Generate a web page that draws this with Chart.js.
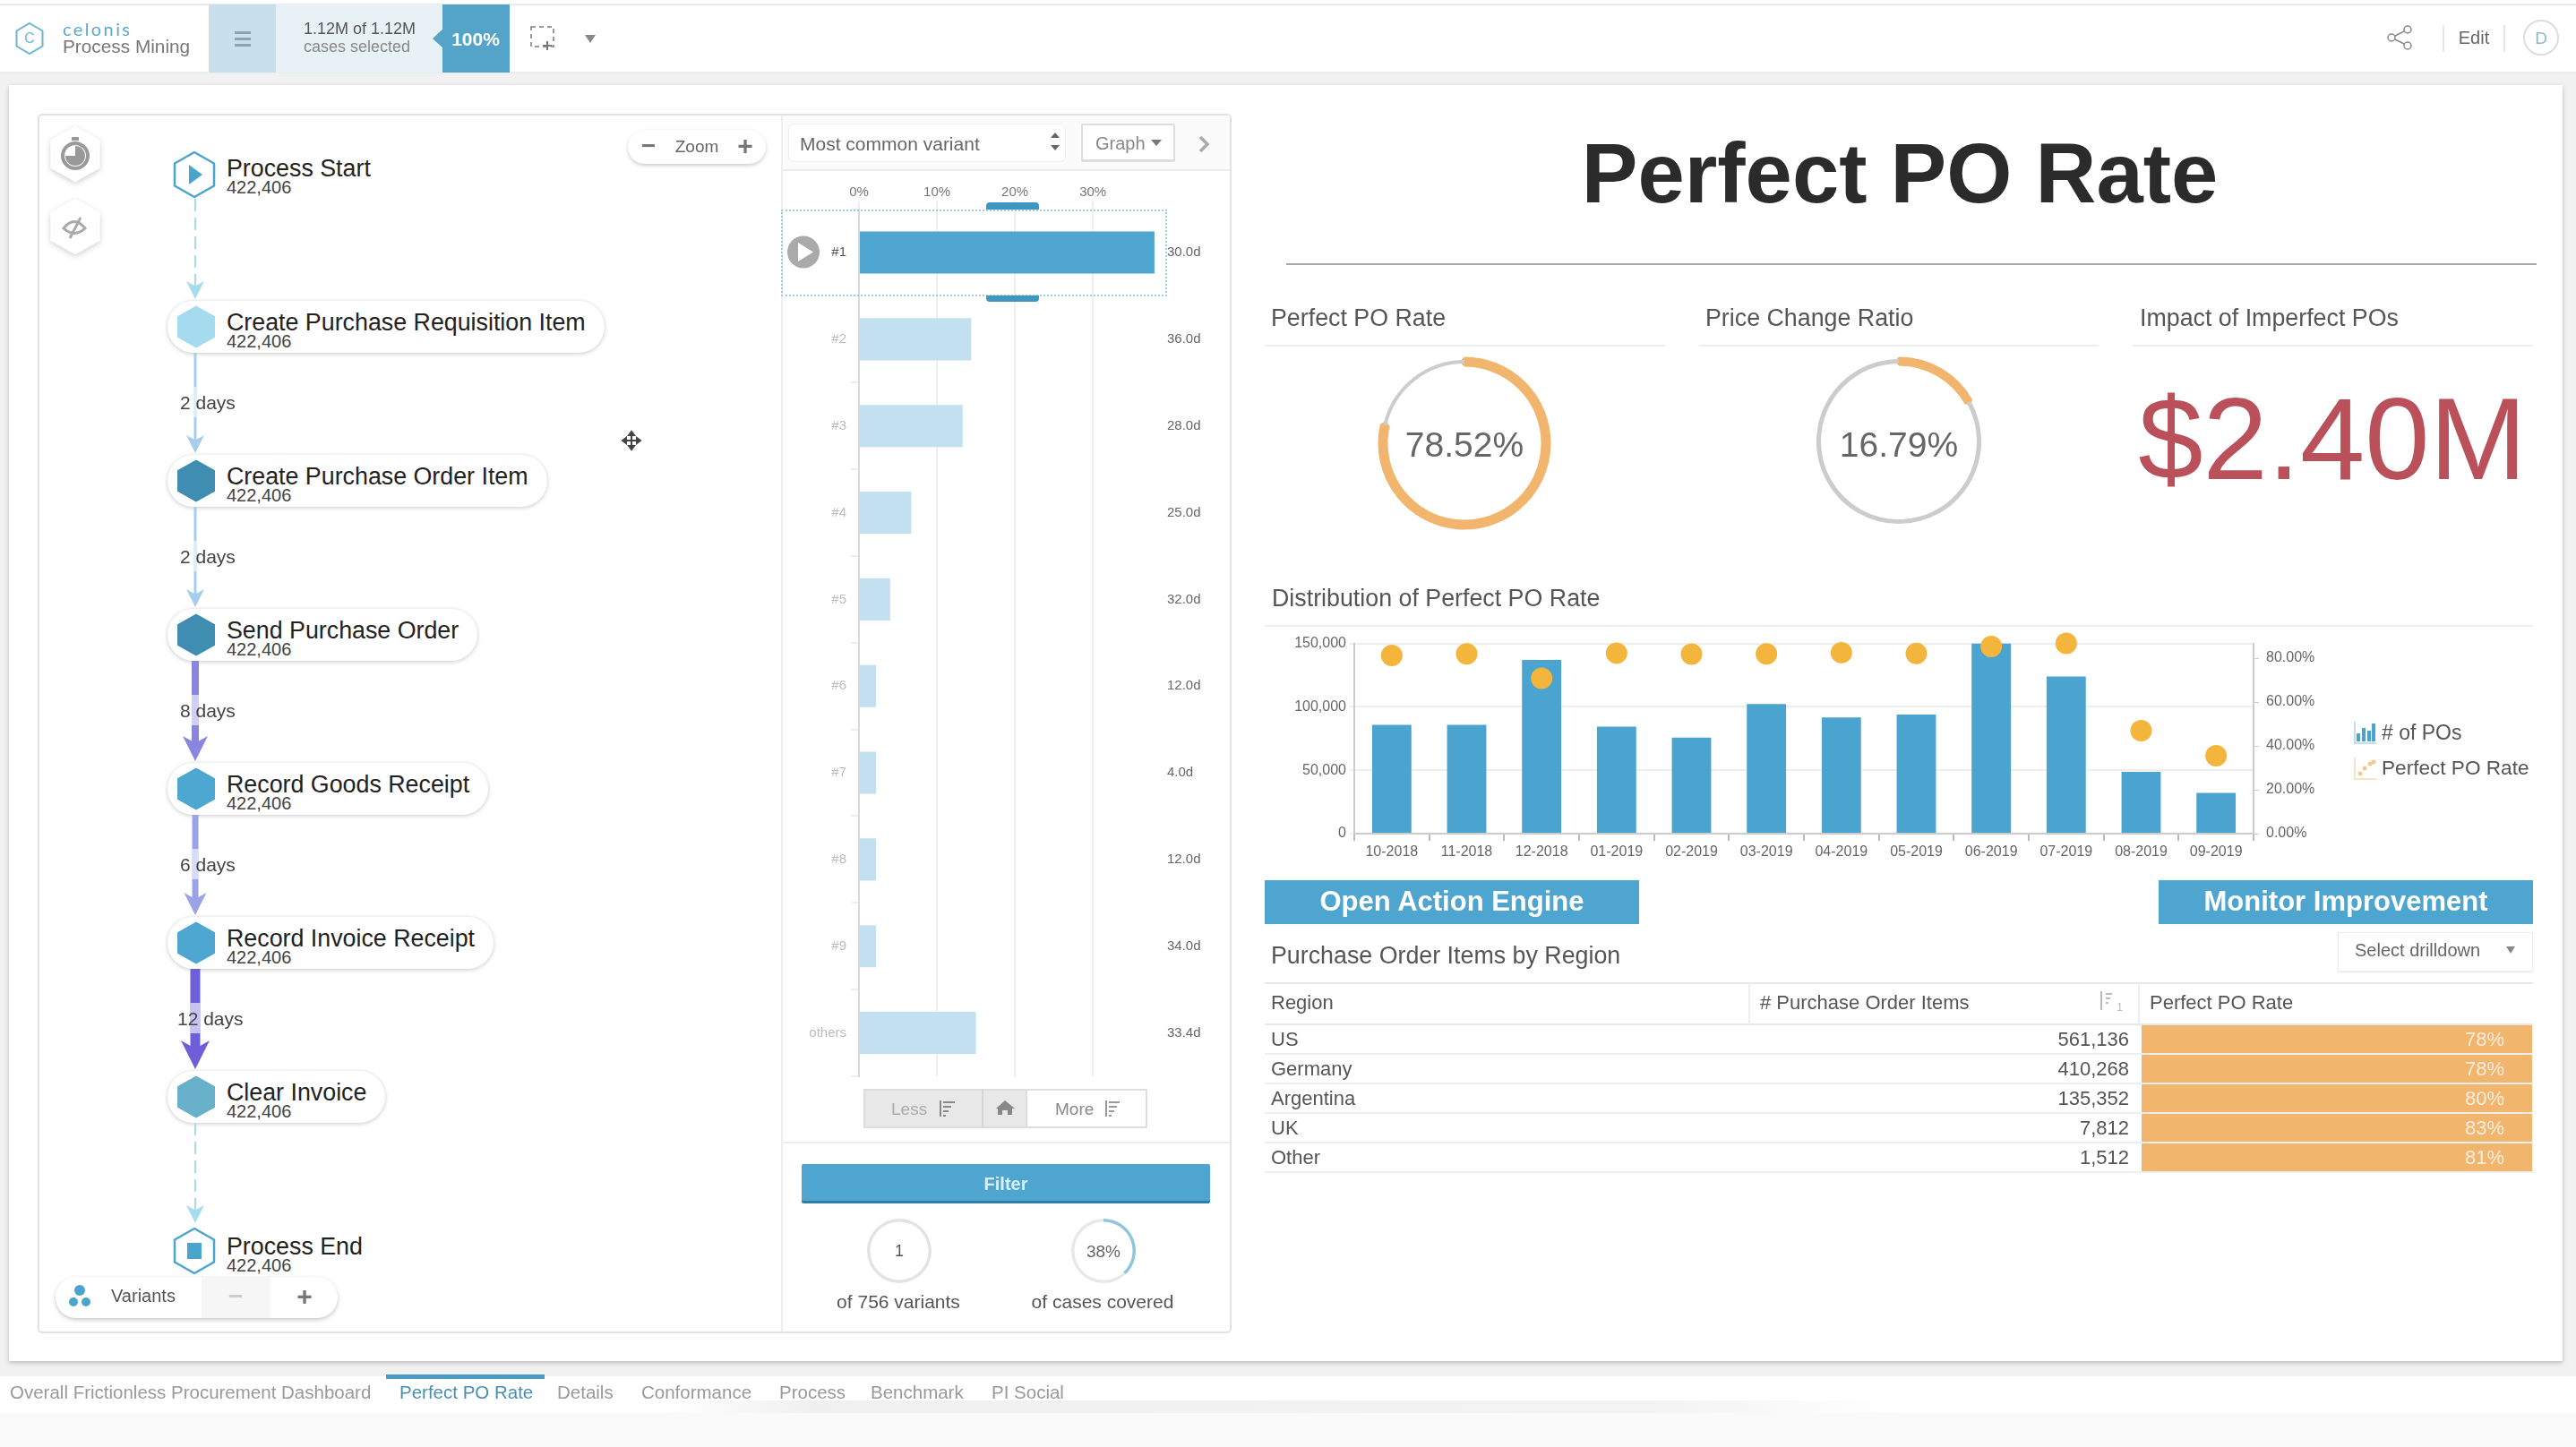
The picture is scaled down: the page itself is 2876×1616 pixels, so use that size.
<!DOCTYPE html>
<html>
<head>
<meta charset="utf-8">
<title>Perfect PO Rate</title>
<script src="https://cdn.jsdelivr.net/npm/chart.js@4/dist/chart.umd.min.js"></script>
<style>
  html, body { margin: 0; padding: 0; width: 2876px; height: 1616px; overflow: hidden; background: #f1f1f2; font-family: "Liberation Sans", Arial, sans-serif; }
  .t { position: absolute; white-space: nowrap; line-height: 1; color: #555; }
  .b { position: absolute; box-sizing: border-box; }
  canvas { position: absolute; }
  svg { position: absolute; left: 0; top: 0; }
  .pill { position: absolute; left: 187px; height: 58px; box-sizing: border-box; padding: 10px 21px 0 66px; border-radius: 29px; background: #fff; box-shadow: 0 1px 5px rgba(0,0,0,.22); color: #222; white-space: nowrap; }
  .pill.plain { background: none; box-shadow: none; }
  .pill .n { font-size: 26.8px; line-height: 28px; }
  .pill .c { font-size: 20px; line-height: 18px; margin-top: -2px; color: #444; }
</style>
</head>
<body>
<script>
// ============================================================
// Data
// ============================================================
const months = ['10-2018', '11-2018', '12-2018', '01-2019', '02-2019', '03-2019', '04-2019', '05-2019', '06-2019', '07-2019', '08-2019', '09-2019'];
const poCounts = [85800, 85800, 137000, 84400, 75700, 102300, 91700, 94000, 150000, 123900, 48700, 32200];
const perfectRate = [81.2, 81.9, 70.8, 82.3, 81.8, 81.9, 82.5, 82.1, 85.3, 86.7, 46.9, 35.5];

const variantLabels = ['#1', '#2', '#3', '#4', '#5', '#6', '#7', '#8', '#9', 'others'];
const variantShare = [37.9, 14.4, 13.3, 6.7, 4.0, 2.2, 2.2, 2.2, 2.2, 15.0];
const variantDuration = ['30.0d', '36.0d', '28.0d', '25.0d', '32.0d', '12.0d', '4.0d', '12.0d', '34.0d', '33.4d'];

const perfectPoRate = 78.52;
const priceChangeRatio = 16.79;
const variantsSelected = 1;
const variantsTotal = 756;
const casesCovered = 38;

const regions = ['US', 'Germany', 'Argentina', 'UK', 'Other'];
const regionItems = [561136, 410268, 135352, 7812, 1512];
const regionRates = [78, 78, 80, 83, 81];

const steps = ['Process Start', 'Create Purchase Requisition Item', 'Create Purchase Order Item', 'Send Purchase Order', 'Record Goods Receipt', 'Record Invoice Receipt', 'Clear Invoice', 'Process End'];
const stepCount = '422,406';
const edgeDays = [null, 2, 2, 8, 6, 12, null];
const tabs = ['Overall Frictionless Procurement Dashboard', 'Perfect PO Rate', 'Details', 'Conformance', 'Process', 'Benchmark', 'PI Social'];

// ============================================================
// Small helpers
// ============================================================
const BLUE = '#4da5d0';
const ORANGE = '#f2b56e';

function box(x, y, w, h, css) {
  const d = document.createElement('div');
  d.className = 'b';
  d.style.cssText = `left:${x}px;top:${y}px;width:${w}px;height:${h}px;${css}`;
  document.body.appendChild(d);
  return d;
}

function put(x, y, text, css = '', align = 'l') {
  const d = document.createElement('div');
  d.className = 't';
  d.textContent = text;
  const tx = align === 'c' ? '-50%' : align === 'r' ? '-100%' : '0';
  d.style.cssText = `left:${x}px;top:${y}px;transform:translate(${tx},-50%);${css}`;
  document.body.appendChild(d);
}

function canvasAt(x, y, w, h) {
  const c = document.createElement('canvas');
  c.width = w;
  c.height = h;
  c.style.left = x + 'px';
  c.style.top = y + 'px';
  c.style.width = w + 'px';
  c.style.height = h + 'px';
  document.body.appendChild(c);
  return c;
}

function hex(cx, cy, w, h) {
  const a = h * 0.25;
  return `M${cx},${cy - h / 2} L${cx + w / 2},${cy - h / 2 + a} L${cx + w / 2},${cy + h / 2 - a} L${cx},${cy + h / 2} L${cx - w / 2},${cy + h / 2 - a} L${cx - w / 2},${cy - h / 2 + a} Z`;
}

Chart.defaults.font.family = '"Liberation Sans", Arial, sans-serif';
Chart.defaults.animation = false;
Chart.defaults.responsive = false;
Chart.defaults.devicePixelRatio = 1;
Chart.defaults.plugins.legend.display = false;
Chart.defaults.plugins.tooltip.enabled = false;

// ============================================================
// Page frame
// ============================================================
box(0, 0, 2876, 81, 'background:#fff;');
box(0, 4, 2876, 2, 'background:#e9e9e9;');
box(0, 80, 2876, 2, 'background:#e6edf1;');
box(233, 5, 75, 76, 'background:#c9e0ec;');
box(308, 5, 186, 76, 'background:#e8f1f6;');
box(494, 5, 75, 76, 'background:#54a3c9;');
box(10, 95, 2851, 1425, 'background:#fff;box-shadow:0 2px 5px rgba(0,0,0,.22);');
box(42, 127, 1333, 1362, 'background:#fff;border:2px solid #e2e2e2;border-radius:5px;');
box(872, 129, 501, 62, 'background:#fbfbfb;border-bottom:2px solid #ececec;border-left:2px solid #eee;');
box(872, 191, 2, 1296, 'background:#eee;');
box(874, 1275, 499, 2, 'background:#eee;');
box(0, 1537, 2876, 41, 'background:#fff;');
box(0, 1578, 2876, 38, 'background:#fafafa;');
box(740, 1564, 1380, 14, 'background:linear-gradient(90deg,rgba(238,238,238,0),#f0f0f0 12%,#f3f3f3 80%,rgba(238,238,238,0));');
box(431, 1535, 177, 5, 'background:#4a9cc4;');

// ============================================================
// Main combo chart: # of POs and Perfect PO Rate
// ============================================================
new Chart(canvasAt(1412, 701, 1190, 270), {
  data: {
    labels: months,
    datasets: [
      {
        type: 'line',
        label: 'Perfect PO Rate',
        data: perfectRate,
        yAxisID: 'rate',
        showLine: false,
        pointRadius: 12,
        pointBackgroundColor: '#f3b53c',
        pointBorderWidth: 0,
        clip: false,
        order: 0
      },
      {
        type: 'bar',
        label: '# of POs',
        data: poCounts,
        yAxisID: 'count',
        backgroundColor: '#4ba4d0',
        categoryPercentage: 1,
        barPercentage: 0.524,
        order: 1
      }
    ]
  },
  options: {
    layout: { padding: { top: 17 } },
    scales: {
      x: {
        afterFit: s => { s.height = 40; },
        grid: { offset: true, drawOnChartArea: false, tickLength: 8, color: '#bbb', lineWidth: 2 },
        border: { color: '#ccc', width: 2 },
        ticks: { color: '#666', font: { size: 16 }, padding: 3, maxRotation: 0, autoSkip: false }
      },
      count: {
        position: 'left',
        min: 0,
        max: 150000,
        afterFit: s => { s.width = 100; },
        grid: { color: '#eeeeee', lineWidth: 2, tickLength: 5 },
        border: { color: '#ccc', width: 2 },
        ticks: { stepSize: 50000, color: '#666', font: { size: 16 }, padding: 4, callback: v => v.toLocaleString('en-US') }
      },
      rate: {
        position: 'right',
        min: 0,
        max: 86.7,
        afterFit: s => { s.width = 86; },
        grid: { drawOnChartArea: false, tickLength: 6, color: '#ccc' },
        border: { color: '#ccc', width: 2 },
        ticks: { stepSize: 20, includeBounds: false, color: '#666', font: { size: 16 }, padding: 8, callback: v => v.toFixed(2) + '%' }
      }
    }
  }
});

// ============================================================
// Variant explorer: horizontal bars
// ============================================================
new Chart(canvasAt(872, 190, 500, 1026), {
  type: 'bar',
  data: {
    labels: variantLabels,
    datasets: [{
      data: variantShare,
      backgroundColor: variantShare.map((v, i) => (i === 0 ? BLUE : '#c3e0f0')),
      categoryPercentage: 1,
      barPercentage: 0.486
    }]
  },
  options: {
    indexAxis: 'y',
    scales: {
      x: {
        position: 'top',
        min: 0,
        max: 38.6,
        afterFit: s => { s.height = 43.6; },
        grid: { color: '#eeeeee', lineWidth: 2, tickLength: 9 },
        border: { display: false },
        ticks: { stepSize: 10, includeBounds: false, color: '#777', font: { size: 15 }, padding: 1, maxRotation: 0, callback: v => v + '%' }
      },
      y: {
        afterFit: s => { s.width = 87; },
        grid: { offset: true, drawOnChartArea: false, tickLength: 9, color: '#eee', lineWidth: 2 },
        border: { color: '#d8d8d8', width: 2 },
        ticks: { color: c => (c.index === 0 ? '#555' : '#bbb'), font: { size: 15 }, padding: 5 }
      },
      dur: {
        type: 'category',
        axis: 'y',
        position: 'right',
        labels: variantDuration,
        offset: true,
        afterFit: s => { s.width = 77; },
        grid: { display: false },
        border: { display: false },
        ticks: { color: '#666', font: { size: 15 }, padding: 0 }
      }
    }
  }
});

// ============================================================
// Gauges
// ============================================================
function gauge(cx, cy, r, hole, value, total, valueColor, restColor, thick) {
  const size = (r + 8) * 2;
  new Chart(canvasAt(cx - size / 2, cy - size / 2, size, size), {
    type: 'doughnut',
    data: {
      datasets: [{
        data: [value, total - value],
        backgroundColor: [valueColor, restColor],
        borderColor: [valueColor, restColor],
        borderWidth: [thick, 0]
      }]
    },
    options: { radius: r, cutout: (hole / r * 100) + '%', events: [] }
  });
}

gauge(1635, 495, 93, 89, perfectPoRate, 100, ORANGE, '#cccccc', 7);
gauge(2120, 493, 92, 87, priceChangeRatio, 100, ORANGE, '#cccccc', 5);
gauge(1004, 1397, 36, 32.5, variantsSelected, variantsTotal, '#e3e3e3', '#e3e3e3', 0);
gauge(1232, 1397, 36, 32.5, casesCovered, 100, '#8fc6de', '#e8e8e8', 0);

// ============================================================
// Process flow
// ============================================================
const FLOW_X = 218;
const nodeY = i => 193 + i * 172;

steps.forEach((name, i) => {
  const plain = i === 0 || i === steps.length - 1;
  const p = document.createElement('div');
  p.className = 'pill' + (plain ? ' plain' : '');
  p.style.top = (nodeY(i) - 29) + 'px';
  p.innerHTML = `<div class="n">${name}</div><div class="c">${stepCount}</div>`;
  document.body.appendChild(p);
});

const edgeLook = [
  { w: 2, color: '#a6dcf0', head: 20, dash: '14 7' },
  { w: 3, color: '#a7cdec', head: 20 },
  { w: 3, color: '#a7cdec', head: 20 },
  { w: 8, color: '#8a85de', head: 28 },
  { w: 7, color: '#9aa3e6', head: 25 },
  { w: 11, color: '#6e5fd9', head: 32 },
  { w: 2, color: '#a6dcf0', head: 20, dash: '14 7' }
];
const nodeFill = [null, '#a5dbee', '#3f8db0', '#3f8db0', '#4da7d0', '#4da7d0', '#69b0ca', null];

let flow = '';
edgeDays.forEach((days, i) => {
  const look = edgeLook[i];
  const from = nodeY(i) + 29;
  const tip = nodeY(i + 1) - 31;
  const h = look.head;
  flow += `<line x1="${FLOW_X}" y1="${from}" x2="${FLOW_X}" y2="${tip - h * 0.6}" stroke="${look.color}" stroke-width="${look.w}" ${look.dash ? `stroke-dasharray="${look.dash}"` : ''}/>`;
  flow += `<path d="M${FLOW_X},${tip} L${FLOW_X - h / 2},${tip - h} L${FLOW_X},${tip - h * 0.72} L${FLOW_X + h / 2},${tip - h} Z" fill="${look.color}"/>`;
  if (days) flow += `<rect x="${FLOW_X - look.w / 2}" y="${nodeY(i) + 67}" width="${look.w}" height="34" fill="#fff" opacity=".62"/>`;
});
nodeFill.forEach((fill, i) => {
  if (fill) flow += `<path d="${hex(FLOW_X + 1, nodeY(i), 40, 45)}" fill="${fill}" stroke="${fill}" stroke-width="2" stroke-linejoin="round"/>`;
});
flow += `<path d="${hex(217, 195, 44, 50)}" fill="#fff" stroke="#4aa5cd" stroke-width="2.5" stroke-linejoin="round"/><path d="M211,184 L226,195 L211,206 Z" fill="#4aa5cd"/>`;
flow += `<path d="${hex(217, 1397, 44, 50)}" fill="#fff" stroke="#4aa5cd" stroke-width="2.5" stroke-linejoin="round"/><rect x="209" y="1388" width="16" height="18" fill="#4aa5cd"/>`;

// side buttons and small icons
const icons = `
  <filter id="sh"><feDropShadow dx="0" dy="2" stdDeviation="3" flood-opacity=".2"/></filter>
  <path d="${hex(84, 172, 55, 62)}" fill="#fff" filter="url(#sh)"/>
  <path d="${hex(84, 253, 55, 62)}" fill="#fff" filter="url(#sh)"/>
  <circle cx="84" cy="174" r="14" fill="#fff" stroke="#999" stroke-width="4"/><path d="M84,174 L84,163 A11,11 0 1,1 73,174 Z" fill="#999"/><rect x="80" y="153" width="8" height="4" fill="#999"/>
  <path d="M71,255 Q83,240 95,255 Q83,266 71,255 Z" fill="none" stroke="#aaa" stroke-width="3"/><line x1="78" y1="266" x2="90" y2="243" stroke="#aaa" stroke-width="3"/>
  <g stroke="#444" stroke-width="2" fill="#444"><line x1="705" y1="484" x2="705" y2="500"/><line x1="697" y1="492" x2="713" y2="492"/><path d="M702,486 L705,482 L708,486 Z M702,498 L705,502 L708,498 Z M699,489 L695,492 L699,495 Z M711,489 L715,492 L711,495 Z"/></g>
  <path d="${hex(33, 43, 29, 34)}" fill="none" stroke="#6fb4d4" stroke-width="2"/>
  <g fill="#8fa3ad"><rect x="262" y="35" width="18" height="3"/><rect x="262" y="42" width="18" height="3"/><rect x="262" y="49" width="18" height="3"/></g>
  <path d="M495,32 L483,43 L495,54 Z" fill="#54a3c9"/>
  <rect x="593" y="30" width="25" height="22" fill="none" stroke="#999" stroke-width="2" stroke-dasharray="5 4"/>
  <path d="M611,46 V56 M606,51 H616" stroke="#777" stroke-width="2"/>
  <path d="M653,39 H665 L659,48 Z" fill="#888"/>
  <g stroke="#888" stroke-width="1.5" fill="#fff"><line x1="2670" y1="42" x2="2688" y2="33"/><line x1="2670" y1="42" x2="2688" y2="51"/><circle cx="2670" cy="42" r="4"/><circle cx="2688" cy="33" r="4"/><circle cx="2688" cy="51" r="4"/></g>
  <line x1="2728" y1="28" x2="2728" y2="58" stroke="#e6e6e6" stroke-width="2"/>
  <line x1="2796" y1="28" x2="2796" y2="58" stroke="#e6e6e6" stroke-width="2"/>
  <circle cx="2837" cy="42" r="19" fill="#fff" stroke="#ddd" stroke-width="2"/>
  <circle cx="897" cy="281.5" r="18" fill="#aaa"/><path d="M891,271 L908,281.5 L891,292 Z" fill="#fff"/>
  <path d="M1340,153 L1348,161 L1340,169" fill="none" stroke="#aaa" stroke-width="3.5"/>
  <path d="M1173,154 L1178,148 L1183,154 Z M1173,162 L1178,168 L1183,162 Z" fill="#666"/>
  <path d="M1285,156 H1297 L1291,163 Z" fill="#777"/>
  <path d="M1112,1238 L1122,1229 L1133,1238 H1130 V1245 H1125 V1240 H1119 V1245 H1114 V1238 Z" fill="#888"/>
  <g stroke="#888" stroke-width="2"><line x1="1050" y1="1229" x2="1050" y2="1247"/><line x1="1053" y1="1231" x2="1066" y2="1231"/><line x1="1053" y1="1236" x2="1062" y2="1236"/><line x1="1053" y1="1241" x2="1059" y2="1241"/><line x1="1053" y1="1246" x2="1056" y2="1246"/></g>
  <g stroke="#999" stroke-width="2"><line x1="1235" y1="1229" x2="1235" y2="1247"/><line x1="1238" y1="1231" x2="1250" y2="1231"/><line x1="1238" y1="1236" x2="1247" y2="1236"/><line x1="1238" y1="1241" x2="1244" y2="1241"/><line x1="1238" y1="1246" x2="1241" y2="1246"/></g>
  <g stroke="#bbb" stroke-width="2"><line x1="2346" y1="1107" x2="2346" y2="1128"/><line x1="2351" y1="1110" x2="2358" y2="1110"/><line x1="2351" y1="1115" x2="2356" y2="1115"/><line x1="2351" y1="1120" x2="2354" y2="1120"/></g>
  <g fill="#4ba4d0"><rect x="2631" y="819" width="4" height="9"/><rect x="2637" y="813" width="4" height="15"/><rect x="2643" y="816" width="4" height="12"/><rect x="2648" y="808" width="4" height="20"/></g>
  <path d="M2629,806 V830 H2653" fill="none" stroke="#a9d4ea" stroke-width="1.5"/>
  <g fill="#f3c98f"><circle cx="2635" cy="864" r="2.5"/><circle cx="2640" cy="858" r="2.5"/><circle cx="2646" cy="853" r="2.5"/><circle cx="2650" cy="851" r="2.5"/></g>
  <path d="M2629,846 V870 H2653" fill="none" stroke="#f3d9b4" stroke-width="1.5"/>
  <g fill="#4aa5cd"><circle cx="89" cy="1441" r="6"/><circle cx="82" cy="1454" r="5"/><circle cx="96" cy="1454" r="5"/></g>
  <path d="M2798,1057 H2808 L2803,1065 Z" fill="#888"/>
`;

// Variants pill sits under the svg layer
box(62, 1426, 315, 46, 'background:#fff;border-radius:23px;box-shadow:0 2px 5px rgba(0,0,0,.22);');
box(225, 1426, 77, 46, 'background:#f6f6f6;');

// selection frame around variant #1
box(872, 233.5, 431, 97, 'border:2px dotted #9ccde4;');
box(1101, 226, 59, 8, 'background:#3f97c1;border-radius:4px 4px 0 0;');
box(1101, 330, 59, 7, 'background:#3f97c1;border-radius:0 0 4px 4px;');

// controls in the middle panel
box(880, 138, 310, 43, 'background:#fff;border:1px solid #eee;border-radius:6px;');
box(1207, 138, 105, 43, 'background:#fff;border:2px solid #ddd;border-bottom-width:3px;border-radius:2px;');
box(701, 145, 154, 38, 'background:#fff;border-radius:19px;box-shadow:0 2px 4px rgba(0,0,0,.2);');
box(964, 1216, 317, 44, 'background:#fff;border:2px solid #ddd;border-radius:2px;');
box(964, 1216, 183, 44, 'background:#e8e8e8;border:2px solid #ddd;');
box(1096, 1216, 2, 44, 'background:#d5d5d5;');
box(895, 1300, 456, 44, `background:${BLUE};border-bottom:3px solid #2f7ea5;border-radius:2px;`);
box(2610, 1041, 218, 44, 'background:#fff;border:1px solid #eee;box-shadow:0 1px 2px rgba(0,0,0,.1);');

document.body.insertAdjacentHTML('beforeend', `<svg width="2876" height="1616" viewBox="0 0 2876 1616">${icons}${flow}</svg>`);

edgeDays.forEach((days, i) => {
  if (days) put(days > 9 ? 198 : 201, nodeY(i) + 84, days + ' days', 'font-size:21px;color:#444;');
});

// ============================================================
// Texts: top bar, left panel, tabs
// ============================================================
put(33, 43, 'C', 'font-size:16px;color:#6fb4d4;', 'c');
put(70, 32, 'celonis', 'font-family:Lato;font-size:20px;letter-spacing:2.4px;color:#5aa8cc;');
put(70, 52, 'Process Mining', 'font-size:20.8px;color:#777;');
put(339, 32, '1.12M of 1.12M', 'font-size:18px;color:#555;');
put(339, 52, 'cases selected', 'font-size:18px;color:#888;');
put(531, 43, '100%', 'font-size:21px;font-weight:bold;color:#fff;', 'c');
put(2762, 42, 'Edit', 'font-size:20px;color:#666;', 'c');
put(2837, 42, 'D', 'font-size:19px;color:#8fb9cf;', 'c');

put(778, 163, 'Zoom', 'font-size:19px;color:#666;', 'c');
put(724, 163, '−', 'font-size:28px;font-weight:bold;color:#777;', 'c');
put(832, 163, '+', 'font-size:30px;font-weight:bold;color:#777;', 'c');
put(124, 1447, 'Variants', 'font-size:20px;color:#555;');
put(263, 1448, '−', 'font-size:28px;font-weight:bold;color:#ccc;', 'c');
put(340, 1448, '+', 'font-size:30px;font-weight:bold;color:#777;', 'c');

put(893, 160, 'Most common variant', 'font-size:21px;color:#666;');
put(1223, 160, 'Graph', 'font-size:20px;color:#888;');
put(995, 1238, 'Less', 'font-size:19px;color:#aaa;');
put(1178, 1238, 'More', 'font-size:19px;color:#888;');
put(1123, 1322, 'Filter', 'font-size:20px;font-weight:bold;color:#d8f0fb;', 'c');
put(1004, 1397, String(variantsSelected), 'font-size:18px;color:#555;', 'c');
put(1232, 1397, casesCovered + '%', 'font-size:19px;color:#666;', 'c');
put(1003, 1453, `of ${variantsTotal} variants`, 'font-size:21px;color:#555;', 'c');
put(1231, 1453, 'of cases covered', 'font-size:21px;color:#555;', 'c');

const tabX = [11, 446, 622, 716, 870, 972, 1107];
tabs.forEach((t, i) => put(tabX[i], 1555, t, `font-size:20.5px;color:${i === 1 ? '#4a8fb0' : '#999'};`));

// ============================================================
// Texts: right side
// ============================================================
put(2121, 194, 'Perfect PO Rate', 'font-size:94px;font-weight:bold;color:#2b2b2b;', 'c');
box(1436, 294, 1396, 2, 'background:#aaa;');

const kpiHead = 'font-size:26.8px;color:#555;';
put(1419, 355, 'Perfect PO Rate', kpiHead);
put(1904, 355, 'Price Change Ratio', kpiHead);
put(2389, 355, 'Impact of Imperfect POs', kpiHead);
box(1412, 385, 447, 2, 'background:#eee;');
box(1897, 385, 446, 2, 'background:#eee;');
box(2381, 385, 447, 2, 'background:#eee;');
put(1635, 496, perfectPoRate.toFixed(2) + '%', 'font-size:39px;color:#666;', 'c');
put(2120, 496, priceChangeRatio.toFixed(2) + '%', 'font-size:39px;color:#666;', 'c');
put(2604, 490, '$2.40M', 'font-size:130px;color:#b9505a;', 'c');

put(1420, 668, 'Distribution of Perfect PO Rate', kpiHead);
box(1412, 698, 1416, 2, 'background:#eee;');
put(2659, 818, '# of POs', 'font-size:23px;color:#555;');
put(2659, 858, 'Perfect PO Rate', 'font-size:22.6px;color:#555;');

box(1412, 983, 418, 49, `background:${BLUE};`);
box(2410, 983, 418, 49, `background:${BLUE};`);
put(1621, 1006, 'Open Action Engine', 'font-size:31px;font-weight:bold;color:#fff;', 'c');
put(2619, 1006, 'Monitor Improvement', 'font-size:31px;font-weight:bold;color:#fff;', 'c');

put(1419, 1067, 'Purchase Order Items by Region', kpiHead);
put(2629, 1061, 'Select drilldown', 'font-size:20px;color:#666;');

// table
box(1412, 1097, 1416, 2, 'background:#e6e6e6;');
box(1412, 1143, 1416, 2, 'background:#e6e6e6;');
box(1952, 1098, 2, 46, 'background:#eee;');
box(2387, 1098, 2, 46, 'background:#eee;');
put(1419, 1120, 'Region', 'font-size:22px;');
put(1965, 1120, '# Purchase Order Items', 'font-size:22px;');
put(2400, 1120, 'Perfect PO Rate', 'font-size:22px;');
put(2370, 1125, '1', 'font-size:12px;color:#bbb;', 'r');

regions.forEach((region, i) => {
  const top = 1145 + i * 33;
  box(2391, top, 436, 31, `background:${ORANGE};`);
  box(1412, top + 31, 1416, 2, 'background:#eee;');
  put(1419, top + 16, region, 'font-size:22px;');
  put(2377, top + 16, regionItems[i].toLocaleString('en-US'), 'font-size:22px;', 'r');
  put(2796, top + 16, regionRates[i] + '%', 'font-size:22px;color:#fbeee0;', 'r');
});
</script>
</body>
</html>
